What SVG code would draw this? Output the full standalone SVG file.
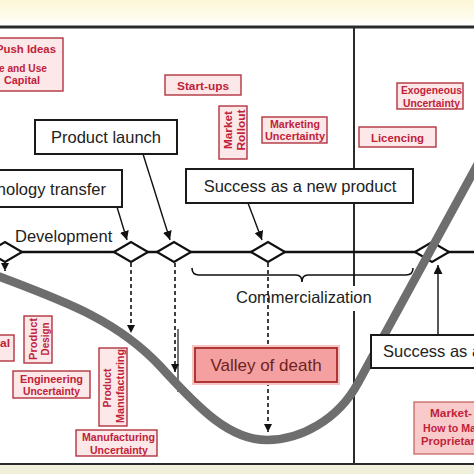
<svg xmlns="http://www.w3.org/2000/svg" width="474" height="474" viewBox="0 0 474 474">
<defs>
<linearGradient id="topg" x1="0" y1="0" x2="0" y2="1">
<stop offset="0" stop-color="#fcf7d6"/><stop offset="0.6" stop-color="#fefbea"/><stop offset="1" stop-color="#ffffff"/>
</linearGradient>
<marker id="ah" viewBox="0 0 10 10" refX="10" refY="5" markerWidth="9" markerHeight="9" markerUnits="userSpaceOnUse" orient="auto">
<path d="M0,0 L10,5 L0,10 z" fill="#111"/>
</marker>
<marker id="dh" viewBox="0 0 10 10" refX="10" refY="5" markerWidth="8" markerHeight="8" markerUnits="userSpaceOnUse" orient="auto">
<path d="M0,0 L10,5 L0,10 z" fill="#111"/>
</marker>
</defs>
<style>
.bl{fill:#fff;stroke:#1a1a1a;stroke-width:2}
.bt{font-family:"Liberation Sans",Arial,sans-serif;font-size:16.5px;fill:#222}
.rb{fill:#fce8e8;stroke:#b3333f;stroke-width:1.4}
.rt{font-family:"Liberation Sans Narrow","Liberation Sans",Arial,sans-serif;font-weight:bold;font-size:11px;fill:#c0223a}
.rv{font-size:10.5px}
.ar{stroke:#111;stroke-width:1.4;fill:none;marker-end:url(#ah)}
.da{stroke:#111;stroke-width:1.6;fill:none;stroke-dasharray:4 3;marker-end:url(#dh)}
.dm{fill:#fff;stroke:#111;stroke-width:2.2}
.fr{stroke:#2a2a2a;fill:none}
</style>

<rect x="0" y="0" width="474" height="474" fill="#ffffff"/>
<rect x="0" y="0" width="474" height="26" fill="url(#topg)"/>
<rect x="0" y="465" width="474" height="9" fill="#f0efdc"/>

<g id="frame">
<line class="fr" x1="0" y1="27" x2="474" y2="27" stroke-width="3"/>
<line class="fr" x1="0" y1="464" x2="474" y2="464" stroke-width="2.2"/>
<line class="fr" x1="354" y1="27" x2="354" y2="286" stroke-width="2"/>
<line class="fr" x1="354" y1="311" x2="354" y2="464" stroke-width="2"/>
<line class="fr" x1="178" y1="329" x2="178" y2="392" stroke-width="1.3"/>
</g>

<g id="timeline">
<line x1="0" y1="252" x2="474" y2="252" stroke="#111" stroke-width="2.5"/>
<text class="bt" x="15" y="242">Development</text>
<path d="M192,268 Q192,275 199,275 L296,275 Q302,275 302,282 Q302,275 308,275 L406,275 Q413,275 413,268" fill="none" stroke="#111" stroke-width="1.6"/>
<rect x="234" y="288" width="142" height="20" fill="#fff"/>
<text class="bt" x="236" y="303">Commercialization</text>
</g>

<g id="milestones">
<polygon class="dm" points="-12,252 5,242 22,252 5,262"/>
<polygon class="dm" points="114,252 131,242 148,252 131,262"/>
<polygon class="dm" points="157,252 174,242 191,252 174,262"/>
<polygon class="dm" points="251,252 268,242 285,252 268,262"/>
<polygon class="dm" points="415,252 432,242 449,252 432,262"/>
</g>

<g id="curve">
<path d="M-5,275 C60,300 115,318 160,366 C200,410 230,440 267,440 C300,440 338,420 358,383 L480,160" fill="none" stroke="#6e6e6e" stroke-width="8.5" stroke-linecap="butt"/>
</g>

<g id="connectors">
<line class="ar" x1="117" y1="207" x2="127" y2="240"/>
<line class="ar" x1="143" y1="154" x2="170" y2="240"/>
<line class="ar" x1="248" y1="203" x2="262" y2="240"/>
<line class="ar" x1="438" y1="335" x2="438" y2="265"/>
<line class="da" x1="5" y1="263" x2="5" y2="271"/>
<line class="da" x1="131" y1="263" x2="131" y2="333"/>
<line class="da" x1="175" y1="263" x2="175" y2="372"/>
<line class="da" x1="268" y1="263" x2="268" y2="432"/>
</g>

<g id="tech-transfer">
<rect class="bl" x="-5" y="170" width="127" height="37"/>
<text class="bt" x="106" y="195" text-anchor="end">Technology transfer</text>
</g>
<g id="product-launch">
<rect class="bl" x="35" y="120" width="142" height="34"/>
<text class="bt" x="106" y="143" text-anchor="middle">Product launch</text>
</g>
<g id="success-new-product">
<rect class="bl" x="186" y="169" width="227" height="34"/>
<text class="bt" x="300" y="192" text-anchor="middle">Success as a new product</text>
</g>
<g id="success-as-a">
<rect class="bl" x="371" y="335" width="110" height="33"/>
<text class="bt" x="383" y="357">Success as a</text>
</g>
<g id="valley">
<rect x="195" y="348" width="142" height="34" fill="none" stroke="#f7c4c4" stroke-width="6"/>
<rect x="195" y="348" width="142" height="34" fill="#f4a0a0" stroke="#a52a2a" stroke-width="1.8"/>
<text x="266" y="371" text-anchor="middle" font-family="Liberation Sans, Arial, sans-serif" font-size="17" fill="#6e2222">Valley of death</text>
</g>

<g id="push-ideas">
<rect class="rb" x="-3" y="38" width="66" height="53"/>
<text class="rt" x="-4" y="53" font-size="13" textLength="60" lengthAdjust="spacingAndGlyphs">Push Ideas</text>
<text class="rt" x="-1" y="71.5" font-size="12" textLength="48" lengthAdjust="spacingAndGlyphs">e and Use</text>
<text class="rt" x="4" y="84" font-size="12" textLength="36" lengthAdjust="spacingAndGlyphs">Capital</text>
</g>
<g id="start-ups">
<rect class="rb" x="165" y="75" width="76" height="20"/>
<text class="rt" x="177" y="90" font-size="13" textLength="52" lengthAdjust="spacingAndGlyphs">Start-ups</text>
</g>
<g id="market-rollout">
<rect class="rb" x="219" y="106" width="28" height="53"/>
<text class="rt rv" transform="translate(232,130) rotate(-90)" text-anchor="middle" textLength="38" lengthAdjust="spacingAndGlyphs">Market</text>
<text class="rt rv" transform="translate(244.5,130) rotate(-90)" text-anchor="middle" textLength="41" lengthAdjust="spacingAndGlyphs">Rollout</text>
</g>
<g id="marketing-uncertainty">
<rect class="rb" x="262" y="117" width="65" height="26"/>
<text class="rt" x="270" y="127.5" textLength="50" lengthAdjust="spacingAndGlyphs">Marketing</text>
<text class="rt" x="265" y="140" textLength="60" lengthAdjust="spacingAndGlyphs">Uncertainty</text>
</g>
<g id="exogeneous-uncertainty">
<rect class="rb" x="397" y="83" width="66" height="26"/>
<text class="rt" x="401" y="94" textLength="61" lengthAdjust="spacingAndGlyphs">Exogeneous</text>
<text class="rt" x="403" y="106.5" textLength="57" lengthAdjust="spacingAndGlyphs">Uncertainty</text>
</g>
<g id="licencing">
<rect class="rb" x="359" y="127" width="77" height="20"/>
<text class="rt" x="371" y="142" font-size="14" textLength="53" lengthAdjust="spacingAndGlyphs">Licencing</text>
</g>
<g id="technical">
<rect class="rb" x="-3" y="335" width="17" height="26"/>
<text class="rt" x="0" y="347" font-size="12" textLength="10" lengthAdjust="spacingAndGlyphs">al</text>
</g>
<g id="product-design">
<rect class="rb" x="24" y="316" width="28" height="47"/>
<text class="rt rv" transform="translate(36.5,339) rotate(-90)" text-anchor="middle" textLength="42" lengthAdjust="spacingAndGlyphs">Product</text>
<text class="rt rv" transform="translate(49,339) rotate(-90)" text-anchor="middle" textLength="33" lengthAdjust="spacingAndGlyphs">Design</text>
</g>
<g id="engineering-uncertainty">
<rect class="rb" x="13" y="371" width="77" height="27"/>
<text class="rt" x="20" y="382.5" textLength="63" lengthAdjust="spacingAndGlyphs">Engineering</text>
<text class="rt" x="23" y="395" textLength="57" lengthAdjust="spacingAndGlyphs">Uncertainty</text>
</g>
<g id="product-manufacturing">
<rect class="rb" x="99" y="348" width="28" height="78"/>
<text class="rt rv" transform="translate(111,388) rotate(-90)" text-anchor="middle" textLength="39" lengthAdjust="spacingAndGlyphs">Product</text>
<text class="rt rv" transform="translate(123.5,386) rotate(-90)" text-anchor="middle" textLength="74" lengthAdjust="spacingAndGlyphs">Manufacturing</text>
</g>
<g id="manufacturing-uncertainty">
<rect class="rb" x="76" y="430" width="81" height="26"/>
<text class="rt" x="82" y="441" textLength="73" lengthAdjust="spacingAndGlyphs">Manufacturing</text>
<text class="rt" x="90" y="453.5" textLength="58" lengthAdjust="spacingAndGlyphs">Uncertainty</text>
</g>
<g id="market-pull">
<rect x="414" y="402" width="66" height="52" fill="#f9caca" stroke="#c25a5a" stroke-width="1.2"/>
<text class="rt" x="430" y="417" font-size="13" textLength="42" lengthAdjust="spacingAndGlyphs">Market-</text>
<text class="rt" x="423" y="432" font-size="12" textLength="53" lengthAdjust="spacingAndGlyphs">How to Ma</text>
<text class="rt" x="421" y="445" font-size="12" textLength="54" lengthAdjust="spacingAndGlyphs">Proprietar</text>
</g>
</svg>
